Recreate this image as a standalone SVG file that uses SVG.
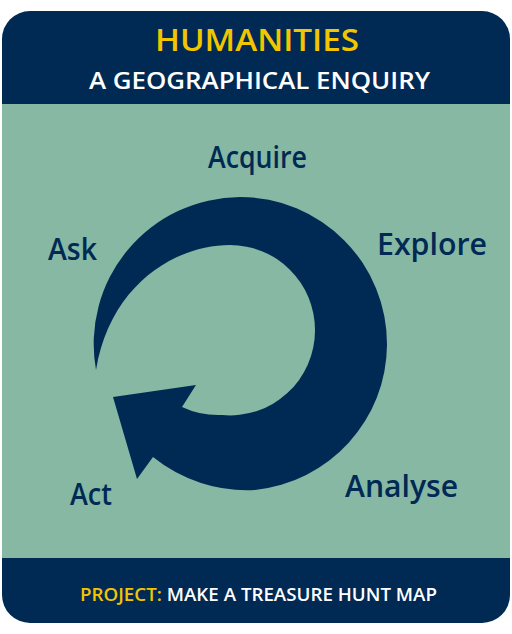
<svg xmlns="http://www.w3.org/2000/svg" width="512" height="634" viewBox="0 0 512 634">
  <style>
    .navy { fill: #002a54; }
    .green { fill: #86b8a3; }
    .t { font-family: "Open Sans", Lato, "DejaVu Sans", sans-serif; font-weight: 600; }
    .lbl { font-family: "Open Sans", Lato, "DejaVu Sans", sans-serif; font-size: 30px; fill: #002a54; font-weight: 600; }
    .hdr { fill: #f2c500; font-size: 31px; }
    .sub { fill: #ffffff; font-size: 24px; }
    .ftr { fill: #ffffff; font-size: 18px; }
    .yel { fill: #f2c500; }
  </style>
  <rect width="512" height="634" fill="#ffffff"/>
  <g id="card">
    <rect class="navy" x="2" y="11" width="508" height="612" rx="28" ry="28"/>
    <rect class="green" x="2" y="104" width="508" height="454"/>
  </g>
  <g id="header">
    <text class="t hdr" x="257" y="51" text-anchor="middle" textLength="204" lengthAdjust="spacingAndGlyphs">HUMANITIES</text>
    <text class="t sub" x="259.5" y="89" text-anchor="middle" textLength="341" lengthAdjust="spacingAndGlyphs">A GEOGRAPHICAL ENQUIRY</text>
  </g>
  <g id="footer">
    <text class="t ftr" x="258.5" y="601" text-anchor="middle" textLength="357" lengthAdjust="spacingAndGlyphs"><tspan class="yel">PROJECT:</tspan> MAKE A TREASURE HUNT MAP</text>
  </g>
  <g id="cycle-arrow">
    <path class="navy" d="M96,370 A147,147 0 0 1 240,197 A147,147 0 0 1 387,345 A147,147 0 0 1 255,490 A150,150 0 0 1 153,457 L137,479 L113,397 L196,385 L182,407 A85,85 0 0 0 222,415 A85,85 0 0 0 315,330 A85,85 0 0 0 230,245 C175,245 110,285 96,370 Z"/>
  </g>
  <g id="node-acquire"><text class="lbl" x="257.5" y="168" text-anchor="middle" textLength="99" lengthAdjust="spacingAndGlyphs">Acquire</text></g>
  <g id="node-explore"><text class="lbl" x="432" y="255" text-anchor="middle" textLength="110" lengthAdjust="spacingAndGlyphs">Explore</text></g>
  <g id="node-analyse"><text class="lbl" x="401.5" y="497" text-anchor="middle" textLength="113" lengthAdjust="spacingAndGlyphs">Analyse</text></g>
  <g id="node-act"><text class="lbl" x="91" y="505" text-anchor="middle" textLength="42" lengthAdjust="spacingAndGlyphs">Act</text></g>
  <g id="node-ask"><text class="lbl" x="72.5" y="260" text-anchor="middle" textLength="49" lengthAdjust="spacingAndGlyphs">Ask</text></g>
</svg>
